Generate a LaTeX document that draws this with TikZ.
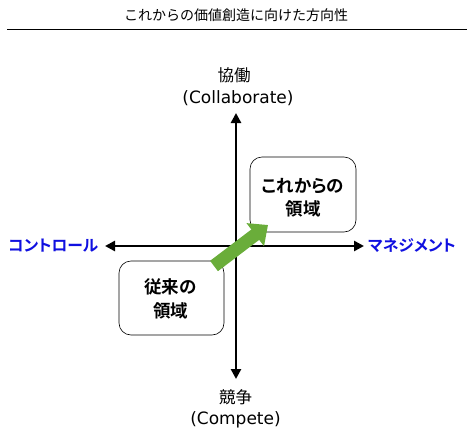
\documentclass[tikz,border=0pt]{standalone}
\usepackage{fontspec}
\setmainfont{Noto Sans CJK JP}
\newfontfamily\jpboldp[RawFeature=+palt]{Noto Sans CJK JP Bold}
\newfontfamily\latinfont{DejaVu Sans}
\usetikzlibrary{arrows.meta}
\definecolor{arrowgreen}{HTML}{6AAD3A}
\definecolor{labelblue}{HTML}{1010E0}
\begin{document}
\begin{tikzpicture}[x=1pt,y=-1pt,
  axis/.style={line width=2.6pt,-{Triangle[length=10pt,width=10pt]}},
  region/.style={draw,line width=0.6pt,rounded corners=12pt,inner sep=0pt},
  regiontext/.style={align=center,font=\jpboldp\fontsize{17.5}{23.5}\selectfont,inner sep=0pt},
  sidelabel/.style={font=\jpboldp\fontsize{15.8}{18}\selectfont,text=labelblue,inner sep=0pt},
  axisjp/.style={font=\fontsize{16.5}{18}\selectfont,inner sep=0pt},
  axislat/.style={font=\latinfont\fontsize{17}{19}\selectfont,inner sep=0pt}]
\useasboundingbox (0,0) rectangle (474,442);
\node[font=\fontsize{14}{16}\selectfont] (title) at (236,15) {これからの価値創造に向けた方向性};
\coordinate (rl) at (7,29.5);
\coordinate (rr) at (467,29.5);
\draw[line width=1pt] (rl) -- (rr);
\node[region,minimum width=106pt,minimum height=75pt] (future) at (303,194.5) {};
\node[regiontext] (futuretext) at (303,197.5) {これからの\\領域};
\node[region,minimum width=105pt,minimum height=74pt] (past) at (171.5,298) {};
\node[regiontext] (pasttext) at (170.5,299) {従来の\\領域};
\coordinate (o) at (236,246);
\coordinate (top) at (236,113);
\coordinate (bot) at (236,379);
\coordinate (lft) at (105,246);
\coordinate (rgt) at (364,246);
\draw[axis] (o) -- (top);
\draw[axis] (o) -- (bot);
\draw[axis] (o) -- (lft);
\draw[axis] (o) -- (rgt);
\node[axisjp] (collab) at (234,75.5) {協働};
\node[axislat] (collaben) at (238,98) {(Collaborate)};
\node[axisjp] (compete) at (235.5,397) {競争};
\node[axislat] (competeen) at (235.5,420) {(Compete)};
\node[sidelabel,anchor=east] (control) at (98.5,246) {コントロール};
\node[sidelabel,anchor=west] (manage) at (368,246) {マネジメント};
\coordinate (gs) at (214,266);
\coordinate (ge) at (268,225);
\draw[line width=13pt,arrowgreen,-{Triangle[length=16pt,width=28pt]}] (gs) -- (ge);
\end{tikzpicture}
\end{document}
